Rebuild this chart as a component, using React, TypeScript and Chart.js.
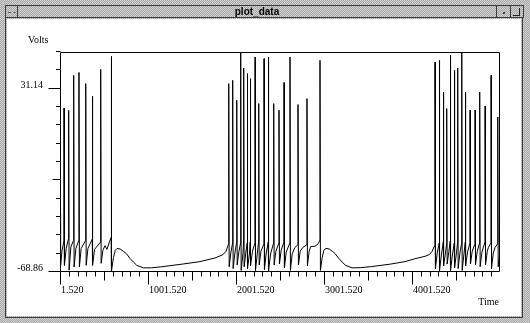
import React, { useEffect, useRef } from "react";
import { Chart, registerables } from "chart.js";

Chart.register(...registerables);

// ---- axes ----
const X_MIN = 1.52;
const X_MAX = 5001.52;
const Y_MIN = -68.86;
const Y_MAX = 51.14;
const xTickValues = [1.52, 1001.52, 2001.52, 3001.52, 4001.52];
const xTickLabels = ["1.520", "1001.520", "2001.520", "3001.520", "4001.520"];
const yTickValues = [-68.86, 31.14];
const yTickLabels = ["-68.86", "31.14"];
const xAxisTitle = "Time";
const yAxisTitle = "Volts";
const windowTitle = "plot_data";

// ---- spikes (ms, volts) ----
const spikeTimes = [
  47, 100, 157, 217, 294, 369, 464, 584,
  1919, 1964, 2010, 2055, 2089, 2130, 2164, 2218, 2260, 2320, 2369, 2430, 2490, 2547, 2615, 2706, 2808, 2956,
  4263, 4312, 4358, 4396, 4437, 4483, 4521, 4567, 4608, 4661, 4718, 4771, 4832, 4900, 4976,
];
const spikePeaks = [
  20.6, 19.3, 38.4, 40.0, 33.9, 27.0, 41.7, 48.8,
  33.9, 35.7, 24.8, 51.0, 42.4, 39.4, 36.6, 48.4, 23.0, 47.5, 48.4, 23.0, 19.4, 34.5, 48.4, 22.5, 25.7, 46.6,
  45.7, 46.6, 29.3, 20.3, 49.4, 41.2, 42.4, 51.0, 29.3, 19.4, 19.4, 29.3, 21.7, 38.4, 15.7,
];
const spikePre = [
  -52.0, -50.6, -51.5, -51.6, -51.6, -51.0, -52.5, -50.0,
  -53.5, -53.0, -52.5, -53.0, -52.0, -53.0, -52.5, -53.0, -52.0, -53.5, -52.5, -53.0, -53.0, -52.5, -53.0, -54.0, -54.0, -51.5,
  -54.0, -53.0, -52.5, -53.5, -52.0, -53.0, -52.5, -53.0, -52.5, -53.0, -53.5, -53.0, -52.5, -53.0, -53.5,
];
const spikeTrough = [
  -65.2, -67.9, -66.1, -66.1, -65.2, -65.2, -64.1, -68.3,
  -66.0, -67.0, -65.0, -68.0, -66.0, -67.0, -65.5, -68.0, -65.0, -67.5, -68.0, -65.0, -64.5, -66.5, -68.0, -65.0, -65.5, -68.0,
  -67.0, -68.0, -65.5, -64.5, -68.0, -66.5, -67.0, -68.0, -65.5, -64.5, -65.0, -66.0, -65.0, -67.0, -66.0,
];
const spikeRecovery = [
  -56.0, -55.2, -56.0, -56.0, -56.0, -56.5, -57.0, -61.0,
  -58.0, -58.5, -57.5, -59.0, -58.0, -58.5, -57.5, -59.0, -57.5, -58.5, -59.0, -57.5, -57.0, -58.0, -59.0, -57.5, -57.5, -61.0,
  -58.5, -59.0, -58.0, -57.5, -59.0, -58.0, -58.5, -59.0, -58.0, -57.5, -57.5, -58.0, -57.5, -58.5, -58.0,
];

// ---- slow (sub-threshold) waveform between spikes ----
const slowTimes = [
  1.52, 8, 25,
  513, 535, 560,
  630, 650, 685, 720, 759, 797, 835, 873, 948, 1040, 1140, 1400, 1592, 1763, 1850, 1890, 1910,
  2670, 2760, 2850, 2900, 2935,
  3000, 3024, 3060, 3095, 3131, 3170, 3207, 3245, 3320, 3420, 3542, 3750, 3922, 4036, 4150, 4200, 4232, 4252,
  4870, 4945,
  5001.52,
];
const slowVolts = [
  -37.0, -65.5, -57.0,
  -54.5, -56.5, -53.0,
  -57.0, -56.0, -56.3, -57.5, -59.0, -61.5, -63.4, -65.2, -66.6, -66.6, -66.1, -64.5, -63.2, -61.2, -59.5, -57.5, -54.5,
  -55.5, -55.5, -55.0, -54.8, -53.5,
  -57.0, -56.0, -56.3, -57.5, -59.0, -61.5, -63.4, -65.2, -66.6, -66.5, -65.9, -64.6, -63.2, -61.6, -60.3, -59.3, -57.5, -55.0,
  -55.5, -55.5,
  -57.8,
];

function buildTrace() {
  const pts: { x: number; y: number }[] = [];
  for (let i = 0; i < slowTimes.length; i++) pts.push({ x: slowTimes[i], y: slowVolts[i] });
  for (let i = 0; i < spikeTimes.length; i++) {
    const t = spikeTimes[i];
    pts.push({ x: t - 1, y: spikePre[i] });
    pts.push({ x: t, y: spikePeaks[i] });
    pts.push({ x: t + 5, y: spikeTrough[i] });
    pts.push({ x: t + 25, y: spikeRecovery[i] });
  }
  pts.sort((a, b) => a.x - b.x);
  return pts;
}

function labelFor(v: number, vals: number[], labels: string[]) {
  for (let i = 0; i < vals.length; i++) if (Math.abs(vals[i] - v) < 0.01) return labels[i];
  return "";
}

const SERIF = '"Liberation Serif", "Times New Roman", serif';
const dither = "repeating-conic-gradient(#a6a6a6 0% 25%, #d2d2d2 0% 50%) 0 0 / 2px 2px";
const dark = "#3c3c3c";

export default function App() {
  const ref = useRef<HTMLCanvasElement>(null);

  useEffect(() => {
    document.body.style.margin = "0";
    const canvas = ref.current!;
    const framePlugin = {
      id: "framePlugin",
      afterDraw(chart: any) {
        const ctx = chart.ctx;
        const { left, top, right, bottom } = chart.chartArea;
        const xs = chart.scales.x;
        const ys = chart.scales.y;
        ctx.save();
        ctx.strokeStyle = "#000";
        ctx.lineWidth = 1;
        ctx.beginPath();
        ctx.moveTo(left + 0.5, top + 0.5);
        ctx.lineTo(right - 0.5, top + 0.5);
        ctx.lineTo(right - 0.5, bottom - 0.5);
        ctx.lineTo(left + 0.5, bottom - 0.5);
        ctx.closePath();
        ctx.stroke();
        // x tick marks every 100
        ctx.beginPath();
        for (let k = 0; k <= 50; k++) {
          const px = Math.round(xs.getPixelForValue(X_MIN + 100 * k)) + 0.5;
          if (px > right) break;
          const len = k % 10 === 0 ? 13 : k % 5 === 0 ? 9 : 5;
          ctx.moveTo(px, bottom - 0.5);
          ctx.lineTo(px, bottom - 0.5 + len);
        }
        // y tick marks every 10
        for (let k = 0; k <= 12; k++) {
          const py = Math.round(ys.getPixelForValue(Y_MIN + 10 * k)) - 0.5;
          const len = k % 10 === 0 ? 12 : k % 5 === 0 ? 8 : 4.5;
          ctx.moveTo(left + 0.5 - len, py);
          ctx.lineTo(left + 0.5, py);
        }
        ctx.stroke();
        ctx.fillStyle = "#000";
        ctx.font = `10px ${SERIF}`;
        ctx.textBaseline = "alphabetic";
        ctx.textAlign = "left";
        ctx.fillText(yAxisTitle, 28, 43);
        ctx.textAlign = "right";
        ctx.fillText(xAxisTitle, right - 1, 305);
        ctx.restore();
      },
    };

    const chart = new Chart(canvas, {
      type: "line",
      data: {
        datasets: [
          {
            data: buildTrace(),
            borderColor: "#000",
            borderWidth: 1,
            pointRadius: 0,
            tension: 0,
            fill: false,
          },
        ],
      },
      options: {
        animation: false,
        responsive: false,
        devicePixelRatio: 1,
        events: [],
        layout: { padding: { left: 0, top: 52, right: 30, bottom: 0 } },
        plugins: {
          legend: { display: false },
          tooltip: { enabled: false },
          title: { display: false },
        },
        scales: {
          x: {
            type: "linear",
            min: X_MIN,
            max: X_MAX,
            grid: { display: false, drawTicks: false },
            border: { display: false },
            ticks: {
              stepSize: 1000,
              autoSkip: false,
              maxRotation: 0,
              minRotation: 0,
              align: "start",
              labelOffset: 1,
              padding: 12,
              color: "#000",
              font: { family: SERIF, size: 10 },
              callback: (v: any) => labelFor(Number(v), xTickValues, xTickLabels),
            },
            afterFit: (s: any) => {
              s.height = 51;
            },
          },
          y: {
            type: "linear",
            min: Y_MIN,
            max: Y_MAX,
            grid: { display: false, drawTicks: false },
            border: { display: false },
            ticks: {
              stepSize: 10,
              autoSkip: false,
              labelOffset: -3.5,
              padding: 17,
              color: "#000",
              font: { family: SERIF, size: 10 },
              callback: (v: any) => labelFor(Number(v), yTickValues, yTickLabels),
            },
            afterFit: (s: any) => {
              s.width = 60;
            },
          },
        },
      } as any,
      plugins: [framePlugin],
    });
    return () => chart.destroy();
  }, []);

  const abs = (s: React.CSSProperties): React.CSSProperties => ({ position: "absolute", boxSizing: "border-box", ...s });

  return (
    <div style={{ position: "fixed", left: 0, top: 0, width: 530, height: 323, overflow: "hidden", background: dither }}>
      {/* title bar */}
      <div style={abs({ left: 5, top: 5, width: 519, height: 13, borderTop: `1px solid ${dark}`, borderBottom: `1px solid ${dark}`, borderLeft: `1px solid ${dark}`, borderRight: `1px solid ${dark}` })} />
      <div style={abs({ left: 17, top: 5, width: 1, height: 13, background: dark })} />
      <div style={abs({ left: 496, top: 5, width: 1, height: 13, background: dark })} />
      <div style={abs({ left: 510, top: 5, width: 1, height: 13, background: dark })} />
      {/* left menu icon */}
      <div style={abs({ left: 8, top: 12, width: 3, height: 1, background: "#666" })} />
      <div style={abs({ left: 13, top: 12, width: 3, height: 1, background: "#666" })} />
      {/* right buttons icons */}
      <div style={abs({ left: 503, top: 12, width: 2, height: 2, background: "#444" })} />
      <div style={abs({ left: 519, top: 8, width: 1, height: 8, background: "#222" })} />
      <div style={abs({ left: 513, top: 15, width: 7, height: 1, background: "#222" })} />
      <div
        style={abs({
          left: 18,
          top: 5,
          width: 478,
          height: 13,
          textAlign: "center",
          font: 'bold 10px "Liberation Sans", Arial, sans-serif',
          lineHeight: "13px",
          color: "#000",
        })}
      >
        {windowTitle}
      </div>
      {/* window frame lines */}
      <div style={abs({ left: 5, top: 18, width: 1, height: 300, background: dark })} />
      <div style={abs({ left: 522, top: 18, width: 1, height: 300, background: dark })} />
      <div style={abs({ left: 5, top: 317, width: 518, height: 1, background: dark })} />
      {/* white content */}
      <div style={abs({ left: 7, top: 19, width: 514, height: 297, background: "#fff" })} />
      <canvas ref={ref} width={530} height={323} style={{ position: "absolute", left: 0, top: 0, width: 530, height: 323 }} />
    </div>
  );
}
